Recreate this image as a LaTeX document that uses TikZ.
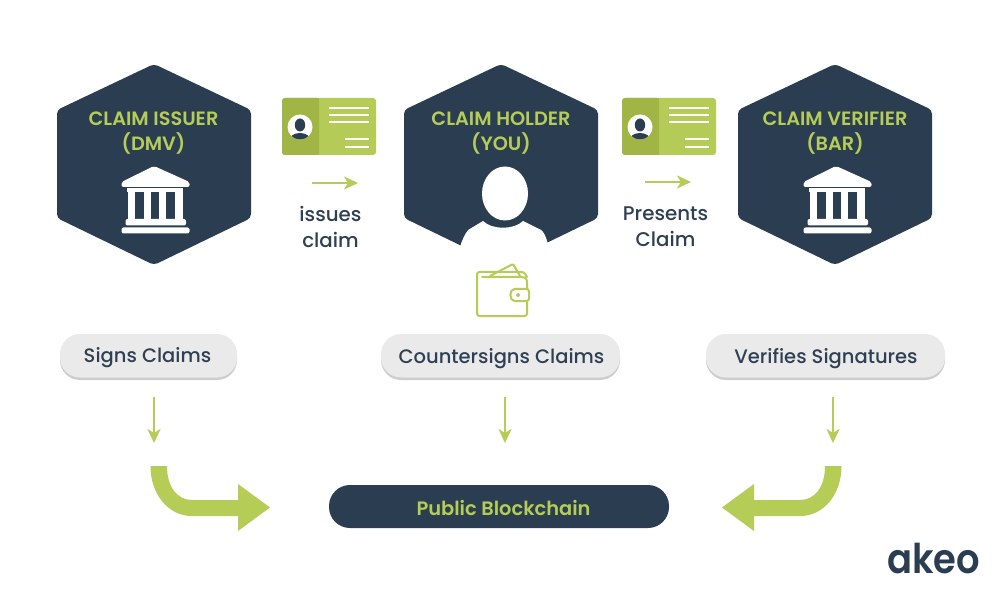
\documentclass[tikz,border=0pt]{standalone}
\usepackage{fontspec}
\setmainfont{Poppins}
\newfontfamily\medfont{Poppins Medium}
\newfontfamily\semifont{Poppins SemiBold}
\usetikzlibrary{arrows.meta}
\definecolor{navy}{HTML}{2B3D51}
\definecolor{lime}{HTML}{B5CC57}
\definecolor{cardlight}{HTML}{B5CB58}
\definecolor{carddark}{HTML}{A1B545}
\definecolor{pillgrey}{HTML}{EAEAEA}
\definecolor{pillshade}{HTML}{CDCDCD}
\definecolor{inktext}{HTML}{2F4054}
\tikzset{
  x=1pt,y=-1pt,
  hexa/.style={fill=navy,rounded corners=4pt},
  titletext/.style={text=lime,font=\semifont\fontsize{19.3}{25}\selectfont,align=center,inner sep=0pt},
  verbtext/.style={text=inktext,font=\medfont\fontsize{19.8}{26}\selectfont,align=center,inner sep=0pt},
  pill/.style={text=inktext,font=\medfont\fontsize{19.5}{24}\selectfont,inner sep=0pt},
  thinarrow/.style={draw=lime,line width=2.2pt,-{Stealth[length=14pt,width=13pt,inset=4pt]}},
  cardline/.style={white,line width=2.4pt},
  iconwhite/.style={fill=white,rounded corners=2pt},
  walletline/.style={draw=lime,line width=2pt,rounded corners=2.5pt,line cap=round,line join=round}
}
\newcommand{\hexagonat}[1]{%
  \fill[hexa] (#1,64) -- (#1+97,110) -- (#1+97,218) -- (#1,265) -- (#1-97,218) -- (#1-97,110) -- cycle;}
\newcommand{\bankat}[1]{%
  \begin{scope}[shift={(#1-154,0)}]
    \fill[iconwhite] (154,166) -- (189.5,182) -- (189.5,187) -- (121.5,187) -- (121.5,182) -- cycle;
    \fill[white] (127,188) rectangle (183,192.5);
    \fill[white] (127.5,192) rectangle (135,220);
    \fill[white] (144,192) rectangle (151,220);
    \fill[white] (159,192) rectangle (166,220);
    \fill[white] (175,192) rectangle (183,220);
    \fill[iconwhite] (125.5,219) rectangle (186,225.5);
    \fill[iconwhite] (121.5,227.5) rectangle (189.5,233.5);
  \end{scope}}
\newcommand{\cardat}[1]{%
  \begin{scope}[shift={(#1-282,0)}]
    \fill[cardlight,rounded corners=3pt] (282,98) rectangle (376,155);
    \fill[carddark,rounded corners=3pt] (282,98) -- (319,98) -- (319,155) -- (282,155) -- cycle;
    \fill[carddark] (310,98) rectangle (319,155);
    \fill[white] (300,127) circle (12.5);
    \begin{scope}
      \clip (300,127) circle (12.5);
      \fill[navy] (300,125) ellipse (5.2 and 6.5);
      \fill[navy] (300,141) ellipse (11 and 8);
    \end{scope}
    \draw[cardline] (329,108) -- (369,108);
    \draw[cardline] (329,115) -- (369,115);
    \draw[cardline] (329,122) -- (369,122);
    \draw[cardline] (345,139) -- (369,139);
    \draw[cardline] (345,147) -- (369,147);
  \end{scope}}
\newcommand{\pillat}[2]{%
  \fill[pillshade,rounded corners=20pt] (#1,337) rectangle (#2,380);
  \fill[pillgrey,rounded corners=20pt] (#1,334) rectangle (#2,377.5);}
\begin{document}
\begin{tikzpicture}
\useasboundingbox (0,0) rectangle (1000,593);
\fill[white] (0,0) rectangle (1000,593);
\hexagonat{154}
\hexagonat{501}
\hexagonat{835}
\bankat{154}
\bankat{836}
\fill[white] (460,247) -- (461,272) -- (550,272) -- (548,244)
  .. controls (546,237) and (544,232) .. (541,230)
  -- (523,221) .. controls (514,230) and (492,230) .. (483,221)
  -- (468,230) .. controls (465,234) and (462,240) .. (460,247) -- cycle;
\fill[white] (505,193.5) ellipse (23 and 27);
\node[titletext] (issuer) at (153.5,133.5) {CLAIM ISSUER\\(DMV)};
\node[titletext] (holder) at (501,133.5) {CLAIM HOLDER\\(YOU)};
\node[titletext] (verifier) at (835,133.5) {CLAIM VERIFIER\\(BAR)};
\cardat{282}
\cardat{622}
\coordinate (ia) at (312,183); \coordinate (ib) at (358,183);
\coordinate (pa) at (645,182); \coordinate (pb) at (691,182);
\draw[thinarrow] (ia) -- (ib);
\draw[thinarrow] (pa) -- (pb);
\node[verbtext] (issues) at (330.5,226.5) {issues\\claim};
\node[verbtext] (presents) at (665.5,227) {Presents\\Claim};
\draw[walletline] (482,277) -- (524,277) -- (527,279) -- (527,316) -- (477,316) -- (477,272) -- (524,272) -- (527,277);
\draw[walletline,rounded corners=1pt] (490,276) -- (513,264) -- (520,276);
\fill[white] (512,289) rectangle (530,301);
\draw[walletline] (529,289) -- (517,289) .. controls (509,289) and (509,301) .. (517,301) -- (529,301) -- cycle;
\fill[lime] (518,295) circle (2);
\pillat{60}{237}
\pillat{381}{620}
\pillat{706}{945}
\node[pill] (signs) at (147.5,358) {Signs Claims};
\node[pill] (counter) at (501.5,359) {Countersigns Claims};
\node[pill] (verifies) at (826,359) {Verifies Signatures};
\coordinate (da) at (154,397); \coordinate (db) at (154,443);
\coordinate (dc) at (505,397); \coordinate (dd) at (505,443);
\coordinate (de) at (833,397); \coordinate (df) at (833,443);
\draw[thinarrow] (da) -- (db);
\draw[thinarrow] (dc) -- (dd);
\draw[thinarrow] (de) -- (df);
\fill[navy,rounded corners=21pt] (329,485) rectangle (669,528);
\node[text=lime,font=\semifont\fontsize{19.4}{24}\selectfont,inner sep=0pt] (chain) at (503.5,507.5) {Public Blockchain};
\fill[lime] (150.5,466) -- (167,466) .. controls (167,488) and (178,500) .. (192,500)
  -- (238,500) -- (238,484) -- (270,507.5) -- (238,531) -- (238,516) -- (192,516)
  .. controls (168,516) and (150.5,494) .. (150.5,466) -- cycle;
\fill[lime] (841.5,466) -- (825,466) .. controls (825,488) and (814,500) .. (800,500)
  -- (754,500) -- (754,484) -- (722,507.5) -- (754,531) -- (754,516) -- (800,516)
  .. controls (824,516) and (841.5,494) .. (841.5,466) -- cycle;
\node[text=navy,inner sep=0pt,xscale=.9,transform shape,font=\semifont\fontsize{41}{41}\selectfont] (logo) at (933.5,559) {akeo};
\end{tikzpicture}
\end{document}
